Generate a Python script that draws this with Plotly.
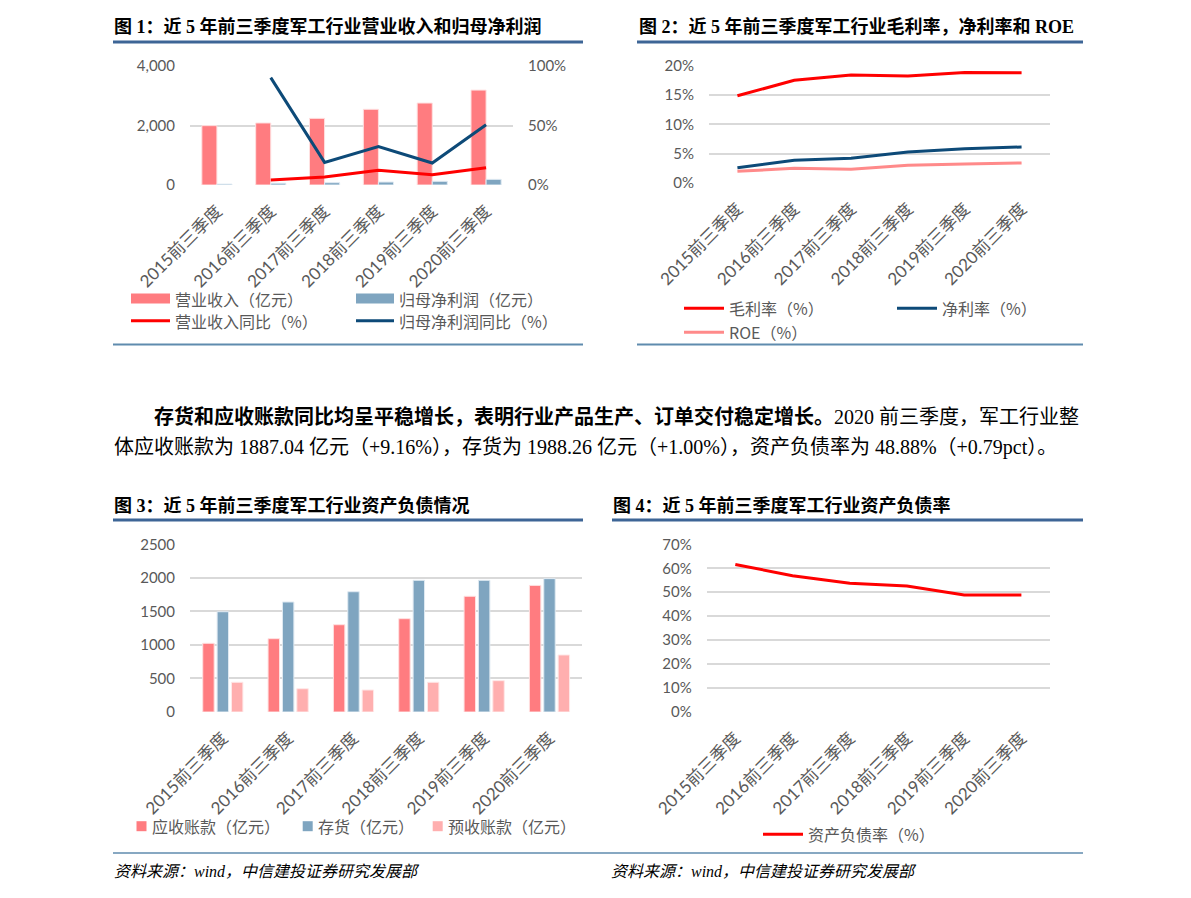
import plotly.graph_objects as go

W, H = 1191, 898

# ---------------- data ----------------
categories = ["2015前三季度", "2016前三季度", "2017前三季度", "2018前三季度", "2019前三季度", "2020前三季度"]

# Fig 1
revenue = [1995, 2085, 2240, 2545, 2755, 3190]          # 亿元
net_profit = [30, 60, 78, 100, 125, 190]                 # 亿元
revenue_yoy = [None, 0.042, 0.067, 0.123, 0.087, 0.145]
profit_yoy = [None, 0.902, 0.190, 0.322, 0.185, 0.507]

# Fig 2
gross_margin = [0.149, 0.1755, 0.1846, 0.183, 0.189, 0.1885]
net_margin = [0.0257, 0.0384, 0.0418, 0.0526, 0.0583, 0.0612]
roe = [0.0195, 0.0247, 0.0230, 0.0298, 0.0320, 0.0338]

# Fig 3
receivables = [1024, 1093, 1301, 1391, 1725, 1887.04]
inventory = [1495, 1640, 1793, 1963, 1963, 1988.26]
advances = [443, 347, 328, 443, 467, 850]

# Fig 4
debt_ratio = [0.616, 0.569, 0.537, 0.526, 0.4885, 0.4888]

# ---------------- style ----------------
C_RED_BAR = "#FF7C80"
C_BLUE_BAR = "#7FA5C0"
C_PINK_BAR = "#FFAFAF"
C_RED = "#FF0000"
C_NAVY = "#0D4A78"
C_PINK = "#FF8A8A"
GRID = "#D9D9D9"
TXT = "#595959"
CJK = "Noto Sans CJK SC"
TICKF = dict(family="Lato, " + CJK, size=15, color=TXT)
XTICKF = dict(family="Lato, " + CJK, size=17, color=TXT)
SERIF = "Liberation Serif, " + CJK


def px(x):
    return x / W


def py(y):
    return 1 - y / H


fig = go.Figure()

# Fig 1 bars
fig.add_trace(go.Bar(x=categories, y=revenue, xaxis="x", yaxis="y", marker=dict(color=C_RED_BAR, line=dict(color="#FFE0E0", width=1)),
                     width=0.28, offset=-0.28, showlegend=False))
fig.add_trace(go.Bar(x=categories, y=net_profit, xaxis="x", yaxis="y", marker=dict(color=C_BLUE_BAR, line=dict(color="#E0EAF2", width=1)),
                     width=0.28, offset=0.0, showlegend=False))
fig.add_trace(go.Scatter(x=categories, y=revenue_yoy, xaxis="x", yaxis="y2", mode="lines",
                         line=dict(color=C_RED, width=3), showlegend=False))
fig.add_trace(go.Scatter(x=categories, y=profit_yoy, xaxis="x", yaxis="y2", mode="lines",
                         line=dict(color=C_NAVY, width=3), showlegend=False))

# Fig 2 lines
for vals, col in [(gross_margin, C_RED), (net_margin, C_NAVY), (roe, C_PINK)]:
    fig.add_trace(go.Scatter(x=categories, y=vals, xaxis="x2", yaxis="y3", mode="lines",
                             line=dict(color=col, width=3), showlegend=False))

# Fig 3 bars
for vals, col, lc, off in [(receivables, C_RED_BAR, "#FFE0E0", -0.305), (inventory, C_BLUE_BAR, "#E0EAF2", -0.085),
                           (advances, C_PINK_BAR, "#FFE8E8", 0.135)]:
    fig.add_trace(go.Bar(x=categories, y=vals, xaxis="x3", yaxis="y4", marker=dict(color=col, line=dict(color=lc, width=1)),
                         width=0.175, offset=off, showlegend=False))

# Fig 4 line
fig.add_trace(go.Scatter(x=categories, y=debt_ratio, xaxis="x4", yaxis="y5", mode="lines",
                         line=dict(color=C_RED, width=3), showlegend=False))

xcommon = dict(type="category", range=[-0.5, 5.5], tickangle=-45, tickfont=XTICKF, showgrid=False, showline=False,
               zeroline=False, ticks="", automargin=False, fixedrange=True, ticklabelstandoff=12)
ycommon = dict(showgrid=True, gridcolor=GRID, gridwidth=1.5, zeroline=False, showline=False, ticks="",
               tickfont=TICKF, automargin=False, fixedrange=True, ticklabelstandoff=14)

fig.update_layout(
    width=W, height=H, margin=dict(l=0, r=0, t=0, b=0),
    paper_bgcolor="white", plot_bgcolor="white", showlegend=False, barmode="group",
    xaxis=dict(domain=[px(190), px(513)], anchor="y", **xcommon),
    yaxis=dict(domain=[py(185), py(66)], anchor="x", range=[0, 4000], dtick=2000, tickformat=",", **ycommon),
    yaxis2=dict(overlaying="y", side="right", anchor="x", range=[0, 1], dtick=0.5, tickformat=".0%",
                showgrid=False, zeroline=False, showline=False, ticks="", tickfont=TICKF, automargin=False,
                fixedrange=True, ticklabelstandoff=14),
    xaxis2=dict(domain=[px(709), px(1050)], anchor="y3", **xcommon),
    yaxis3=dict(domain=[py(182.7), py(66)], anchor="x2", range=[0, 0.2], dtick=0.05, tickformat=".0%", **ycommon),
    xaxis3=dict(domain=[px(190), px(582)], anchor="y4", **xcommon),
    yaxis4=dict(domain=[py(712), py(544.3)], anchor="x3", range=[0, 2500], dtick=500, tickformat="d", **ycommon),
    xaxis4=dict(domain=[px(706.7), px(1050)], anchor="y5", **xcommon),
    yaxis5=dict(domain=[py(712), py(544.3)], anchor="x4", range=[0, 0.7], dtick=0.1, tickformat=".0%", **ycommon),
)

shapes = []
annotations = []


def hline(x0, x1, y, color, width):
    shapes.append(dict(type="line", xref="paper", yref="paper", x0=px(x0), x1=px(x1), y0=py(y), y1=py(y),
                       line=dict(color=color, width=width)))


def text(x, y, s, size, color="#000000", family=CJK, xanchor="left"):
    annotations.append(dict(xref="paper", yref="paper", x=px(x), y=py(y), text=s, showarrow=False,
                            xanchor=xanchor, yanchor="middle", borderpad=0,
                            font=dict(family=family, size=size, color=color)))


LEG = 16


def legend_rect(x0, x1, y, h, color, label):
    shapes.append(dict(type="rect", xref="paper", yref="paper", x0=px(x0), x1=px(x1), y0=py(y + h / 2), y1=py(y - h / 2),
                       fillcolor=color, line=dict(width=0)))
    text(x1 + 4, y, label, LEG, TXT)


def legend_line(x0, x1, y, color, label):
    hline(x0, x1, y, color, 3)
    text(x1 + 4, y, label, LEG, TXT)


# section separators
TOP = "#3D6596"
BOT = "#5F8BAE"
hline(113, 583, 42, TOP, 3)
hline(637, 1083, 42, TOP, 3)
hline(113, 583, 344.5, BOT, 2)
hline(637, 1083, 344.5, BOT, 2)
hline(113, 583, 520, TOP, 3)
hline(612, 1083, 520, TOP, 3)
hline(113, 1083, 853, BOT, 1.5)

# titles
text(113, 26, "<b>图 1：近 5 年前三季度军工行业营业收入和归母净利润</b>", 18, family=SERIF)
text(638, 26, "<b>图 2：近 5 年前三季度军工行业毛利率，净利率和 ROE</b>", 18, family=SERIF)
text(113, 505, "<b>图 3：近 5 年前三季度军工行业资产负债情况</b>", 18, family=SERIF)
text(612, 505, "<b>图 4：近 5 年前三季度军工行业资产负债率</b>", 18, family=SERIF)

# paragraph
text(153, 416, "<b>存货和应收账款同比均呈平稳增长，表明行业产品生产、订单交付稳定增长。</b>2020 前三季度，军工行业整", 20, family=SERIF)
text(113, 447, "体应收账款为 1887.04 亿元（+9.16%），存货为 1988.26 亿元（+1.00%），资产负债率为 48.88%（+0.79pct）。", 20, family=SERIF)

# sources
text(113, 871, "<i>资料来源：wind，中信建投证券研究发展部</i>", 16, family=SERIF)
text(610, 871, "<i>资料来源：wind，中信建投证券研究发展部</i>", 16, family=SERIF)

# legends
legend_rect(131, 170, 298.5, 10, C_RED_BAR, "营业收入（亿元）")
legend_rect(356, 394, 298.5, 10, C_BLUE_BAR, "归母净利润（亿元）")
legend_line(131, 170, 320.7, C_RED, "营业收入同比（%）")
legend_line(356, 394, 320.7, C_NAVY, "归母净利润同比（%）")

legend_line(684, 724, 308.3, C_RED, "毛利率（%）")
legend_line(897, 937, 308.3, C_NAVY, "净利率（%）")
legend_line(684, 724, 332.3, C_PINK, "ROE（%）")

legend_rect(136.5, 146.5, 826.2, 10, C_RED_BAR, "应收账款（亿元）")
legend_rect(302.7, 312.7, 826.2, 10, C_BLUE_BAR, "存货（亿元）")
legend_rect(432.7, 442.7, 826.2, 10, C_PINK_BAR, "预收账款（亿元）")

legend_line(763, 803, 834.3, C_RED, "资产负债率（%）")

fig.update_layout(shapes=shapes, annotations=annotations)

fig.write_html("out.html")
